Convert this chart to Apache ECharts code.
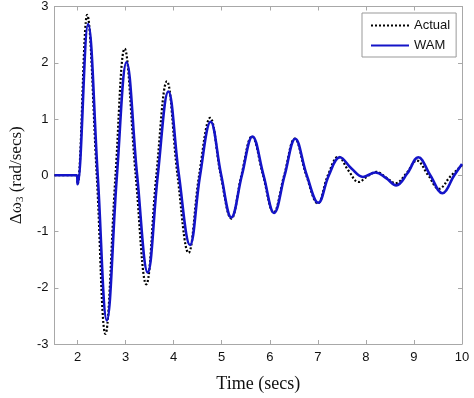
<!DOCTYPE html>
<html>
<head>
<meta charset="utf-8">
<script src="https://cdn.jsdelivr.net/npm/echarts@6/dist/echarts.min.js"></script>
<style>
	html, body { margin: 0; padding: 0; background: #fff; }
	#chart { width: 474px; height: 398px; }
</style>
</head>
<body>
<div id="chart"></div>
<script>
// values
var actualTime = [1.52, 1.99, 2.0, 2.2, 2.4, 2.58, 2.79, 2.98, 3.21, 3.43, 3.64, 3.86, 4.08, 4.31, 4.53, 4.76, 4.98, 5.2, 5.41, 5.63, 5.86, 6.08, 6.3, 6.52, 6.76, 7.0, 7.21, 7.43, 7.64, 7.85, 8.03, 8.22, 8.42, 8.62, 8.84, 9.06, 9.29, 9.52, 9.76, 10];
var actualValue = [0, 0, -0.16, 2.85, 0, -2.82, 0, 2.25, 0, -1.94, 0, 1.67, 0, -1.38, 0, 1.02, 0, -0.77, 0, 0.69, 0, -0.66, 0, 0.65, 0, -0.5, 0, 0.33, 0.08, -0.12, -0.02, 0.06, -0.04, -0.14, 0.03, 0.26, 0.01, -0.24, -0.02, 0.18];

var wamTime = [1.52, 1.99, 2.0, 2.22, 2.42, 2.61, 2.82, 3.02, 3.24, 3.46, 3.67, 3.89, 4.11, 4.34, 4.55, 4.77, 4.99, 5.2, 5.42, 5.64, 5.87, 6.09, 6.31, 6.53, 6.77, 7.01, 7.23, 7.46, 7.7, 7.94, 8.2, 8.42, 8.63, 8.86, 9.09, 9.34, 9.59, 9.84, 10];
var wamValue = [0, 0, -0.16, 2.69, 0, -2.58, 0, 2.01, 0, -1.73, 0, 1.49, 0, -1.24, 0, 0.95, 0, -0.75, 0, 0.69, 0, -0.67, 0, 0.65, 0, -0.49, 0, 0.32, 0.12, -0.03, 0.05, -0.05, -0.18, 0.03, 0.32, 0.0, -0.32, 0.0, 0.2];

var xTicks = [2, 3, 4, 5, 6, 7, 8, 9, 10];

function pairs(t, v) {
	return t.map(function (x, i) {
		return [x, v[i]];
	});
}

var chart = echarts.init(document.getElementById("chart"), null, { renderer: "canvas" });

var frameColor = "#a8a8a8";
var labelFont = "'Liberation Sans', Arial, sans-serif";
var titleFont = "'Liberation Serif', 'Times New Roman', serif";

function xAxisDef(top) {
	return {
		type: "value",
		position: top ? "top" : "bottom",
		min: 1.52,
		max: 10,
		axisLine: { show: true, onZero: false, lineStyle: { color: frameColor, width: 1 } },
		axisTick: { show: true, inside: true, length: 4, customValues: xTicks, lineStyle: { color: frameColor } },
		axisLabel: {
			show: !top,
			customValues: xTicks,
			color: "#111",
			fontSize: 13,
			fontFamily: labelFont,
			margin: 7
		},
		splitLine: { show: false },
		name: top ? "" : "Time (secs)",
		nameLocation: "middle",
		nameGap: 31,
		nameTextStyle: { color: "#111", fontSize: 18, fontFamily: titleFont }
	};
}

function yAxisDef(right) {
	return {
		type: "value",
		position: right ? "right" : "left",
		min: -3,
		max: 3,
		interval: 1,
		axisLine: { show: true, onZero: false, lineStyle: { color: frameColor, width: 1 } },
		axisTick: { show: true, inside: true, length: 4, lineStyle: { color: frameColor } },
		axisLabel: {
			show: !right,
			color: "#111",
			fontSize: 13,
			fontFamily: labelFont,
			margin: 6
		},
		splitLine: { show: false },
		name: right ? "" : "{a|Δω}{s|3}{a| (rad/secs)}",
		nameLocation: "middle",
		nameGap: 28,
		nameTextStyle: {
			rich: {
				a: { color: "#111", fontSize: 17, fontFamily: titleFont },
				s: { color: "#111", fontSize: 11, fontFamily: titleFont, verticalAlign: "bottom", padding: [8, 0, 0, 0] }
			}
		}
	};
}

var option = {
	animation: false,
	backgroundColor: "#fff",
	grid: {
		left: 51,
		right: 12,
		top: 5,
		bottom: 47
	},
	xAxis: [xAxisDef(false), xAxisDef(true)],
	yAxis: [yAxisDef(false), yAxisDef(true)],
	legend: {
		left: 362,
		top: 13,
		orient: "vertical",
		align: "left",
		itemWidth: 38,
		itemHeight: 10,
		itemGap: 7,
		padding: [6, 6, 5, 8],
		borderColor: "#999",
		borderWidth: 1,
		backgroundColor: "#fff",
		borderRadius: 0,
		itemStyle: { opacity: 0 },
		textStyle: { color: "#111", fontSize: 13, fontFamily: labelFont },
		data: ["Actual", "WAM"]
	},
	series: [
		{
			name: "Actual",
			type: "line",
			smooth: 0.4,
			symbol: "none",
			data: pairs(actualTime, actualValue),
			lineStyle: { color: "#000", width: 2.2, type: [2, 2] },
			itemStyle: { color: "#000" },
			z: 2
		},
		{
			name: "WAM",
			type: "line",
			smooth: 0.4,
			symbol: "none",
			data: pairs(wamTime, wamValue),
			lineStyle: { color: "#1414c8", width: 2.6 },
			itemStyle: { color: "#1414c8" },
			z: 3
		}
	]
};

chart.setOption(option);
</script>
</body>
</html>
